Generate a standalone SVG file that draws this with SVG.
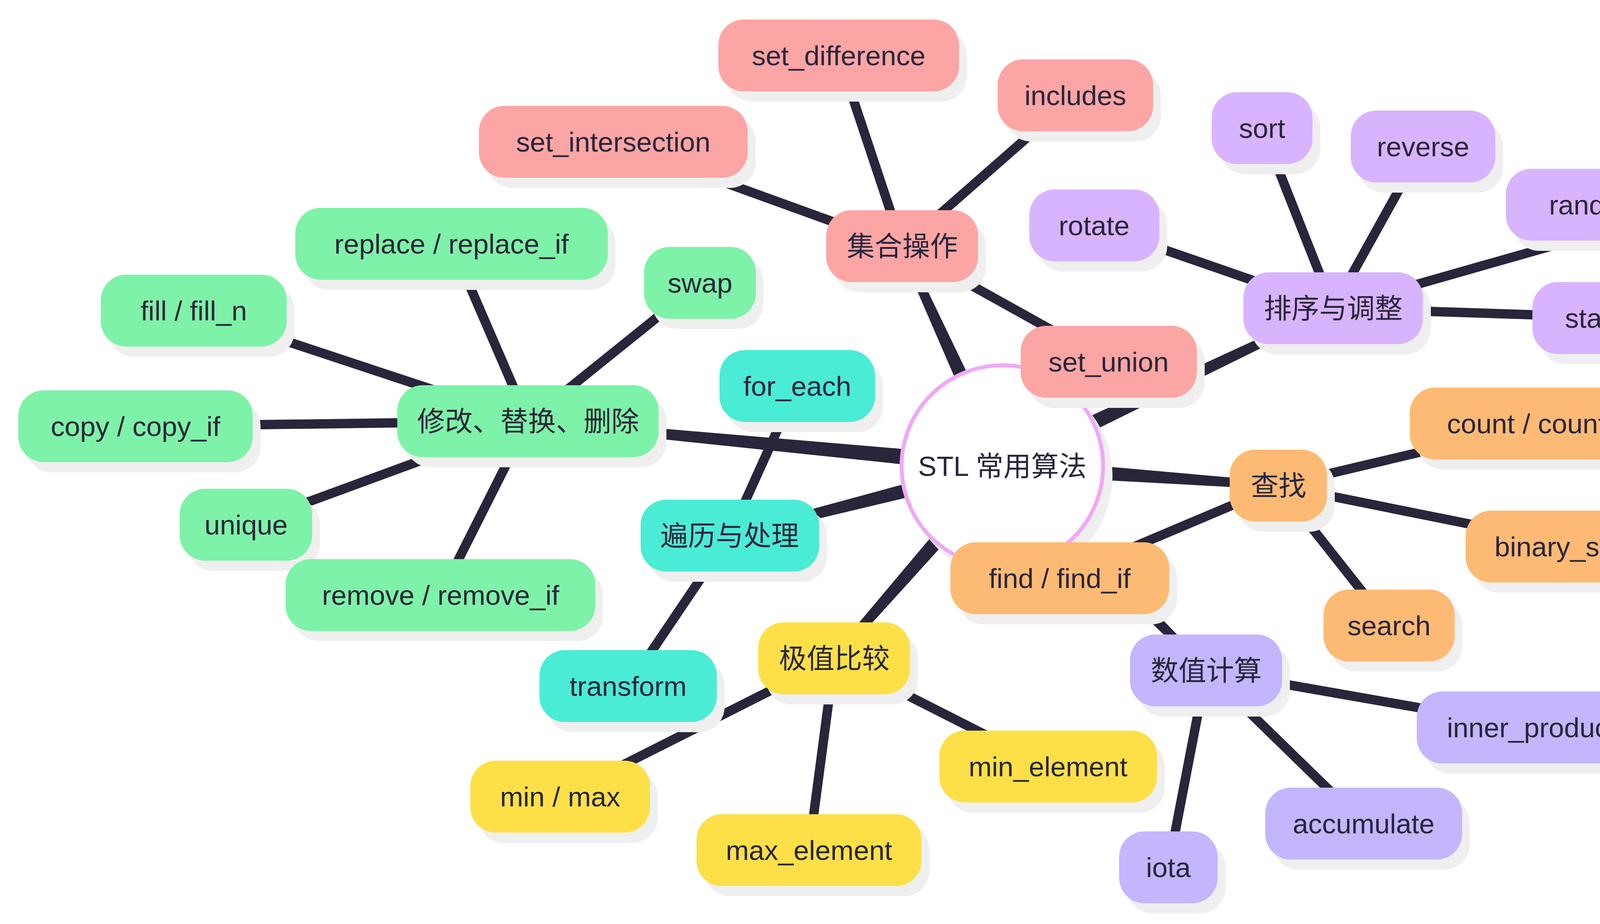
<svg xmlns="http://www.w3.org/2000/svg" width="4878" height="2365" viewBox="0 0 4878 2365">
<style>
text{font-family:"Liberation Sans","Noto Sans CJK SC",sans-serif;font-size:71px;fill:#29253a;text-anchor:middle;dominant-baseline:central}
.sh{fill:#efefef}
.r{fill:#fca5a5}.p{fill:#d8b4fe}.o{fill:#fdba74}.v{fill:#c4b5fd}.y{fill:#fde047}.t{fill:#4aecd5}.g{fill:#7ef2a8}
#edges line{stroke:#29253a;stroke-linecap:round;stroke-width:24}
#edges polygon{fill:#29253a}
</style>
<rect width="4878" height="2365" fill="#fff"/>
<g id="edges">
<polygon points="2586,1184 2319,628 2301,636 2546,1202"/>
<polygon points="2575,1213 3417,798 3409,780 2557,1173"/>
<polygon points="2564,1215 3272,1253 3274,1233 2568,1171"/>
<polygon points="2550,1209 3081,1723 3095,1709 2582,1177"/>
<polygon points="2549,1178 2128,1678 2144,1692 2583,1208"/>
<polygon points="2561,1172 1866,1361 1870,1381 2571,1214"/>
<polygon points="2568,1171 1353,1068 1351,1088 2564,1215"/>
<line x1="2310" y1="632" x2="2147" y2="142"/>
<line x1="2310" y1="632" x2="2753" y2="244"/>
<line x1="2310" y1="632" x2="1570" y2="364"/>
<line x1="2310" y1="632" x2="2838" y2="926"/>
<line x1="3413" y1="789" x2="3231" y2="328"/>
<line x1="3413" y1="789" x2="3643" y2="375"/>
<line x1="3413" y1="789" x2="4343" y2="524"/>
<line x1="3413" y1="789" x2="2801" y2="577"/>
<line x1="3413" y1="789" x2="4180" y2="814"/>
<line x1="3273" y1="1243" x2="3945" y2="1084"/>
<line x1="3273" y1="1243" x2="4049" y2="1399"/>
<line x1="3273" y1="1243" x2="3556" y2="1601"/>
<line x1="3273" y1="1243" x2="2713" y2="1480"/>
<line x1="3088" y1="1716" x2="3921" y2="1862"/>
<line x1="3088" y1="1716" x2="3491" y2="2108"/>
<line x1="3088" y1="1716" x2="2991" y2="2220"/>
<line x1="2136" y1="1685" x2="1434" y2="2039"/>
<line x1="2136" y1="1685" x2="2071" y2="2176"/>
<line x1="2136" y1="1685" x2="2683" y2="1962"/>
<line x1="1868" y1="1371" x2="2041" y2="988"/>
<line x1="1868" y1="1371" x2="1608" y2="1756"/>
<line x1="1352" y1="1078" x2="1156" y2="624"/>
<line x1="1352" y1="1078" x2="1792" y2="724"/>
<line x1="1352" y1="1078" x2="496" y2="795"/>
<line x1="1352" y1="1078" x2="347" y2="1091"/>
<line x1="1352" y1="1078" x2="630" y2="1343"/>
<line x1="1352" y1="1078" x2="1128" y2="1523"/>
</g>
<g id="root"><circle class="sh" cx="2586" cy="1219" r="262"/><circle cx="2566" cy="1193" r="258" fill="#fff" stroke="#f0a8f8" stroke-width="10"/><text x="2566" y="1193" font-size="74">STL 常用算法</text></g>
<g id="n1"><rect class="sh" x="2135" y="564" width="389" height="184" rx="65"/><rect class="r" x="2115" y="538" width="389" height="184" rx="65"/><text x="2310" y="630">集合操作</text></g>
<g id="n2"><rect class="sh" x="1859" y="76" width="616" height="184" rx="65"/><rect class="r" x="1839" y="50" width="616" height="184" rx="65"/><text x="2147" y="142">set_difference</text></g>
<g id="n3"><rect class="sh" x="2574" y="178" width="398" height="184" rx="65"/><rect class="r" x="2554" y="152" width="398" height="184" rx="65"/><text x="2753" y="244">includes</text></g>
<g id="n4"><rect class="sh" x="1246" y="297" width="688" height="184" rx="65"/><rect class="r" x="1226" y="271" width="688" height="184" rx="65"/><text x="1570" y="363">set_intersection</text></g>
<g id="n5"><rect class="sh" x="2633" y="860" width="451" height="184" rx="65"/><rect class="r" x="2613" y="834" width="451" height="184" rx="65"/><text x="2838" y="926">set_union</text></g>
<g id="n6"><rect class="sh" x="3203" y="723" width="460" height="184" rx="65"/><rect class="p" x="3183" y="697" width="460" height="184" rx="65"/><text x="3413" y="789">排序与调整</text></g>
<g id="n7"><rect class="sh" x="3122" y="262" width="258" height="184" rx="65"/><rect class="p" x="3102" y="236" width="258" height="184" rx="65"/><text x="3231" y="328">sort</text></g>
<g id="n8"><rect class="sh" x="3478" y="309" width="370" height="184" rx="65"/><rect class="p" x="3458" y="283" width="370" height="184" rx="65"/><text x="3643" y="375">reverse</text></g>
<g id="n9"><rect class="sh" x="3875" y="458" width="977" height="184" rx="65"/><rect class="p" x="3855" y="432" width="977" height="184" rx="65"/><text x="4343" y="524">random_shuffle / shuffle</text></g>
<g id="n10"><rect class="sh" x="2655" y="511" width="333" height="184" rx="65"/><rect class="p" x="2635" y="485" width="333" height="184" rx="65"/><text x="2801" y="577">rotate</text></g>
<g id="n11"><rect class="sh" x="3943" y="748" width="513" height="184" rx="65"/><rect class="p" x="3923" y="722" width="513" height="184" rx="65"/><text x="4180" y="814">stable_sort</text></g>
<g id="n12"><rect class="sh" x="3168" y="1177" width="249" height="184" rx="65"/><rect class="o" x="3148" y="1151" width="249" height="184" rx="65"/><text x="3273" y="1243">查找</text></g>
<g id="n13"><rect class="sh" x="3629" y="1018" width="672" height="184" rx="65"/><rect class="o" x="3609" y="992" width="672" height="184" rx="65"/><text x="3945" y="1084">count / count_if</text></g>
<g id="n14"><rect class="sh" x="3772" y="1333" width="594" height="184" rx="65"/><rect class="o" x="3752" y="1307" width="594" height="184" rx="65"/><text x="4049" y="1399">binary_search</text></g>
<g id="n15"><rect class="sh" x="3408" y="1535" width="336" height="184" rx="65"/><rect class="o" x="3388" y="1509" width="336" height="184" rx="65"/><text x="3556" y="1601">search</text></g>
<g id="n16"><rect class="sh" x="2453" y="1414" width="560" height="184" rx="65"/><rect class="o" x="2433" y="1388" width="560" height="184" rx="65"/><text x="2713" y="1480">find / find_if</text></g>
<g id="n17"><rect class="sh" x="2913" y="1650" width="389" height="184" rx="65"/><rect class="v" x="2893" y="1624" width="389" height="184" rx="65"/><text x="3088" y="1716">数值计算</text></g>
<g id="n18"><rect class="sh" x="3647" y="1796" width="588" height="184" rx="65"/><rect class="v" x="3627" y="1770" width="588" height="184" rx="65"/><text x="3921" y="1862">inner_product</text></g>
<g id="n19"><rect class="sh" x="3259" y="2042" width="504" height="184" rx="65"/><rect class="v" x="3239" y="2016" width="504" height="184" rx="65"/><text x="3491" y="2108">accumulate</text></g>
<g id="n20"><rect class="sh" x="2885" y="2154" width="252" height="184" rx="65"/><rect class="v" x="2865" y="2128" width="252" height="184" rx="65"/><text x="2991" y="2220">iota</text></g>
<g id="n21"><rect class="sh" x="1961" y="1619" width="389" height="184" rx="65"/><rect class="y" x="1941" y="1593" width="389" height="184" rx="65"/><text x="2136" y="1685">极值比较</text></g>
<g id="n22"><rect class="sh" x="1224" y="1973" width="460" height="184" rx="65"/><rect class="y" x="1204" y="1947" width="460" height="184" rx="65"/><text x="1434" y="2039">min / max</text></g>
<g id="n23"><rect class="sh" x="1803" y="2110" width="576" height="184" rx="65"/><rect class="y" x="1783" y="2084" width="576" height="184" rx="65"/><text x="2071" y="2176">max_element</text></g>
<g id="n24"><rect class="sh" x="2425" y="1896" width="557" height="184" rx="65"/><rect class="y" x="2405" y="1870" width="557" height="184" rx="65"/><text x="2683" y="1962">min_element</text></g>
<g id="n25"><rect class="sh" x="1660" y="1305" width="457" height="184" rx="65"/><rect class="t" x="1640" y="1279" width="457" height="184" rx="65"/><text x="1868" y="1371">遍历与处理</text></g>
<g id="n26"><rect class="sh" x="1862" y="922" width="398" height="184" rx="65"/><rect class="t" x="1842" y="896" width="398" height="184" rx="65"/><text x="2041" y="988">for_each</text></g>
<g id="n27"><rect class="sh" x="1401" y="1690" width="454" height="184" rx="65"/><rect class="t" x="1381" y="1664" width="454" height="184" rx="65"/><text x="1608" y="1756">transform</text></g>
<g id="n28"><rect class="sh" x="1037" y="1012" width="669" height="184" rx="65"/><rect class="g" x="1017" y="986" width="669" height="184" rx="65"/><text x="1352" y="1078">修改、替换、删除</text></g>
<g id="n29"><rect class="sh" x="776" y="558" width="800" height="184" rx="65"/><rect class="g" x="756" y="532" width="800" height="184" rx="65"/><text x="1156" y="624">replace / replace_if</text></g>
<g id="n30"><rect class="sh" x="1669" y="658" width="286" height="184" rx="65"/><rect class="g" x="1649" y="632" width="286" height="184" rx="65"/><text x="1792" y="724">swap</text></g>
<g id="n31"><rect class="sh" x="278" y="729" width="476" height="184" rx="65"/><rect class="g" x="258" y="703" width="476" height="184" rx="65"/><text x="496" y="795">fill / fill_n</text></g>
<g id="n32"><rect class="sh" x="67" y="1025" width="600" height="184" rx="65"/><rect class="g" x="47" y="999" width="600" height="184" rx="65"/><text x="347" y="1091">copy / copy_if</text></g>
<g id="n33"><rect class="sh" x="480" y="1277" width="339" height="184" rx="65"/><rect class="g" x="460" y="1251" width="339" height="184" rx="65"/><text x="630" y="1343">unique</text></g>
<g id="n34"><rect class="sh" x="751" y="1457" width="793" height="184" rx="65"/><rect class="g" x="731" y="1431" width="793" height="184" rx="65"/><text x="1128" y="1523">remove / remove_if</text></g>
</svg>
